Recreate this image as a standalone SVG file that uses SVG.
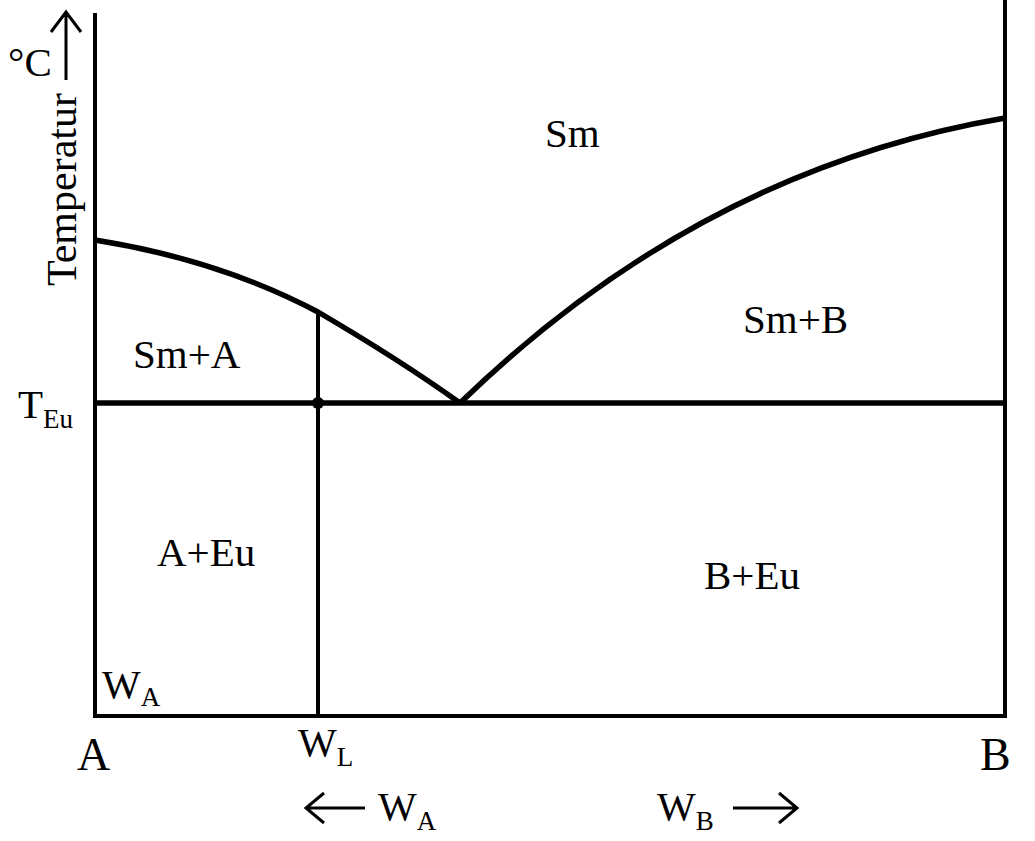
<svg xmlns="http://www.w3.org/2000/svg" width="1035" height="841" viewBox="0 0 1035 841">
<style>
text{font-family:"Liberation Serif","Times New Roman",serif;fill:#000}
.l{font-size:41px}
.s{font-size:27px}
.ln{stroke:#000;fill:none;stroke-width:4}
.c{stroke:#000;fill:none;stroke-width:5.5}
</style>
<rect width="1035" height="841" fill="#fff"/>
<g id="axes">
<path class="ln" d="M95,13 V716 H1005 V0"/>
<path class="c" d="M95,403 H1005"/>
<path class="ln" d="M318,312 V716"/>
<circle cx="318" cy="403" r="6" fill="#000"/>
</g>
<g id="curves">
<path class="c" d="M95,240 Q220,260 318,312 Q400,360 460,403"/>
<path class="c" d="M460,403 Q700,170 1005,118"/>
</g>
<g id="arrows" stroke="#000" fill="none" stroke-width="3">
<path d="M66,80 V12 M51,32 L66,12 L81,32"/>
<path d="M306,808 H365 M324,793 L306,808 L324,823"/>
<path d="M733,808 H797 M779,793 L797,808 L779,823"/>
</g>
<g id="labels">
<text class="l" x="545" y="147">Sm</text>
<text class="l" x="133" y="368">Sm+A</text>
<text class="l" x="743" y="333">Sm+B</text>
<text class="l" x="157" y="566">A+Eu</text>
<text class="l" x="704" y="589">B+Eu</text>
<text class="l" x="18" y="418">T<tspan class="s" dy="10">Eu</tspan></text>
<text class="l" x="102" y="698">W<tspan class="s" dy="8">A</tspan></text>
<text x="77" y="770" font-size="46">A</text>
<text x="980" y="770" font-size="46">B</text>
<text class="l" x="298" y="756">W<tspan class="s" dy="10">L</tspan></text>
<text class="l" x="378" y="820">W<tspan class="s" dy="10">A</tspan></text>
<text class="l" x="657" y="820">W<tspan class="s" dy="10">B</tspan></text>
<text class="l" x="8" y="76">°C</text>
<text font-size="42" transform="translate(76,286) rotate(-90)">Temperatur</text>
</g>
</svg>
